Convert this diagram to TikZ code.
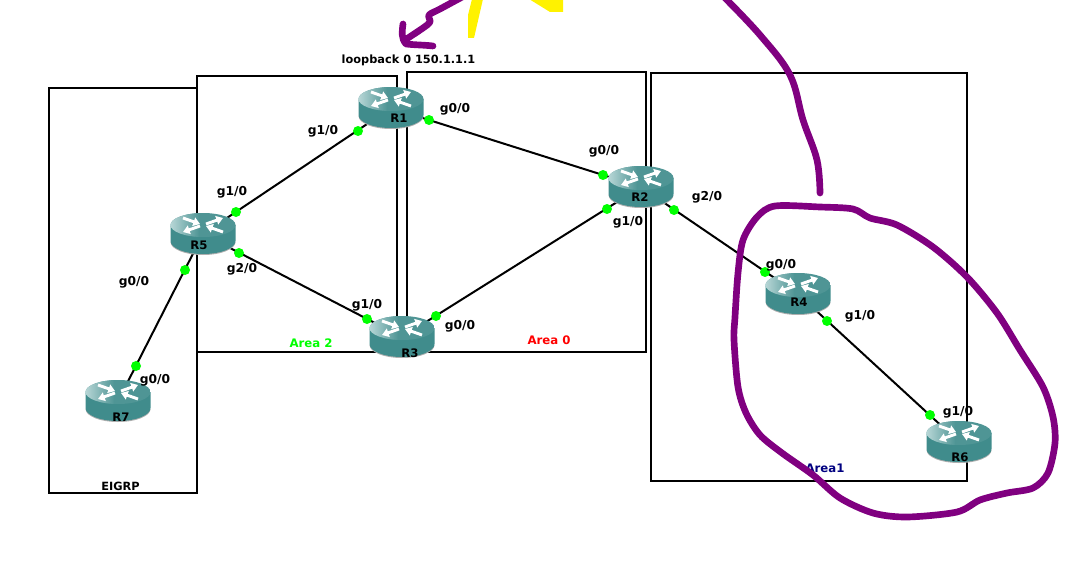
\documentclass[tikz,border=0pt]{standalone}
\usepackage{fontspec}
\usetikzlibrary{arrows.meta}
\setmainfont{DejaVu Sans}
\definecolor{rbody}{RGB}{64,140,140}
\definecolor{rlight}{RGB}{185,215,215}
\definecolor{rshade}{RGB}{175,175,175}
\definecolor{inkp}{RGB}{128,0,128}
\definecolor{dotg}{RGB}{0,255,0}
\definecolor{area2c}{RGB}{0,255,0}
\definecolor{area1c}{RGB}{0,0,128}
\tikzset{
  x=0.75pt,y=-0.75pt,
  area/.style={draw=black,line width=1.5pt,fill=none,inner sep=0pt},
  link/.style={draw=black,line width=1.5pt},
  dot/.style={circle,fill=dotg,draw=none,inner sep=0pt,minimum size=7.5pt},
  lab/.style={font=\bfseries\fontsize{9.2}{10}\selectfont,text=black,inner sep=0pt},
  arealab/.style={font=\bfseries\fontsize{8.8}{10}\selectfont,inner sep=0pt},
  blacklab/.style={font=\bfseries\fontsize{8.5}{10}\selectfont,text=black,inner sep=0pt},
  rname/.style={font=\bfseries\fontsize{8.8}{9}\selectfont,text=black,inner sep=0pt},
  ink/.style={draw=inkp,line width=5pt,line cap=round,line join=round},
  rtr/.style={circle,minimum size=30pt,inner sep=0pt,draw=none},
  rarrow/.style={white,line width=2.2pt,-{Triangle[length=5pt,width=6.5pt]}}
}
\newcommand{\routerdraw}[5]{%
 \begin{scope}[shift={(#2,#3)}]
  \fill[rshade] (-32.5,8) arc[start angle=180,end angle=0,x radius=32.5,y radius=13] -- cycle;
  \fill[rbody] (-32.5,-9) -- (-32.5,7) arc[start angle=180,end angle=0,x radius=32.5,y radius=13] -- (32.5,-9) -- cycle;
  \begin{scope}
   \clip (0,-9) ellipse[x radius=32.5,y radius=12];
   \fill[rbody!92!white] (-33,-22) rectangle (33,4);
   \shade[left color=rlight,right color=rbody!92!white] (-33,-22) rectangle (-4,4);
  \end{scope}
  \draw[rarrow] (-20,-16) -- (-3,-10);
  \draw[rarrow] (3,-10) -- (20,-16);
  \draw[rarrow] (-3,-8) -- (-20,-2);
  \draw[rarrow] (20,-2) -- (3,-8);
 \end{scope}
 \node[rname] at (#2+#5,#3+#4) {#1};
}
\begin{document}
\begin{tikzpicture}
\useasboundingbox (0,0) rectangle (1080,567);
% area boxes
\node[area,minimum width=111pt,minimum height=303.75pt] (eigrp) at (123,290.5) {};
\node[area,minimum width=150pt,minimum height=207pt] (a2) at (297,214) {};
\node[area,minimum width=179.25pt,minimum height=210pt] (a0) at (526.5,212) {};
\node[area,minimum width=237pt,minimum height=306pt] (a1) at (809,277) {};
% router anchors
\node[rtr] (R1) at (391,108) {};
\node[rtr] (R2) at (641,187) {};
\node[rtr] (R3) at (402,337) {};
\node[rtr] (R4) at (798,294) {};
\node[rtr] (R5) at (203,234) {};
\node[rtr] (R6) at (959,442) {};
\node[rtr] (R7) at (118,401) {};
% links
\draw[link] (R1.center) -- (R2.center);
\draw[link] (R1.center) -- (R5.center);
\draw[link] (R5.center) -- (R3.center);
\draw[link] (R3.center) -- (R2.center);
\draw[link] (R2.center) -- (R4.center);
\draw[link] (R4.center) -- (R6.center);
\draw[link] (R5.center) -- (R7.center);
% routers
\routerdraw{R1}{391}{108}{10}{8}
\routerdraw{R2}{641}{187}{10}{-1}
\routerdraw{R3}{402}{337}{16}{8}
\routerdraw{R4}{798}{294}{8}{1}
\routerdraw{R5}{203}{234}{11}{-4}
\routerdraw{R6}{959}{442}{15}{1}
\routerdraw{R7}{118}{401}{16}{3}
% dots
\foreach \n/\x/\y in {d1/358/131,d2/429/120,d3/603/175,d4/607/209,d5/674/210,d6/765/272,d7/827/321,d8/930/415,d9/236/212,d10/239/253,d11/367/319,d12/436/316,d13/185/270,d14/136/366}{
 \node[dot] (\n) at (\x,\y) {};
}
% labels
\foreach \n/\x/\y/\t in {l1/323/131/g1\slash 0,l2/455/109/g0\slash 0,l3/604/151/g0\slash 0,l4/628/222/g1\slash 0,l5/707/197/g2\slash 0,l6/781/265/g0\slash 0,l7/860/316/g1\slash 0,l8/958/412/g1\slash 0,l9/232/192/g1\slash 0,l10/242/269/g2\slash 0,l11/367/305/g1\slash 0,l12/460/326/g0\slash 0,l13/134/282/g0\slash 0,l14/155/380/g0\slash 0}{
 \node[lab] (\n) at (\x,\y) {\t};
}
\node[blacklab] (lb) at (408.5,60) {loopback 0 150.1.1.1};
\node[blacklab] (te) at (120.5,486) {EIGRP};
\node[arealab,text=area2c] (t2) at (311,343) {Area 2};
\node[arealab,text=red] (t0) at (549,340) {Area 0};
\node[arealab,text=area1c] (t1) at (825,468) {Area1};
% yellow ink
\fill[yellow] (472,-1) -- (483,-1) -- (474,38) -- (468,38) -- (468,15) -- cycle;
\fill[yellow] (529,-1) -- (563,-1) -- (563,12) -- (550,12) -- cycle;
% purple ink
\draw[ink] plot[smooth,tension=0.5] coordinates {(464,-4) (440,9) (429,15) (430,22) (423,28) (405,40)};
\draw[ink] (403,24) .. controls (402,32) and (401,38) .. (406,44) .. controls (415,45) and (425,45) .. (433,46);
\draw[ink] plot[smooth,tension=0.6] coordinates {(724,-3) (760,35) (790,75) (803,120) (817,160) (820,193)};
\draw[ink] plot[smooth cycle,tension=0.5] coordinates {(775,206) (757,217) (743,240) (738,273) (735,317) (734,340) (738,387) (746,413) (760,435) (782,453) (813,475) (840,498) (873,513) (907,517) (957,512) (980,500) (1007,493) (1033,488) (1048,473) (1055,443) (1053,417) (1043,387) (1020,350) (997,313) (967,277) (933,247) (897,225) (870,218) (853,209) (820,207)};
\end{tikzpicture}
\end{document}
